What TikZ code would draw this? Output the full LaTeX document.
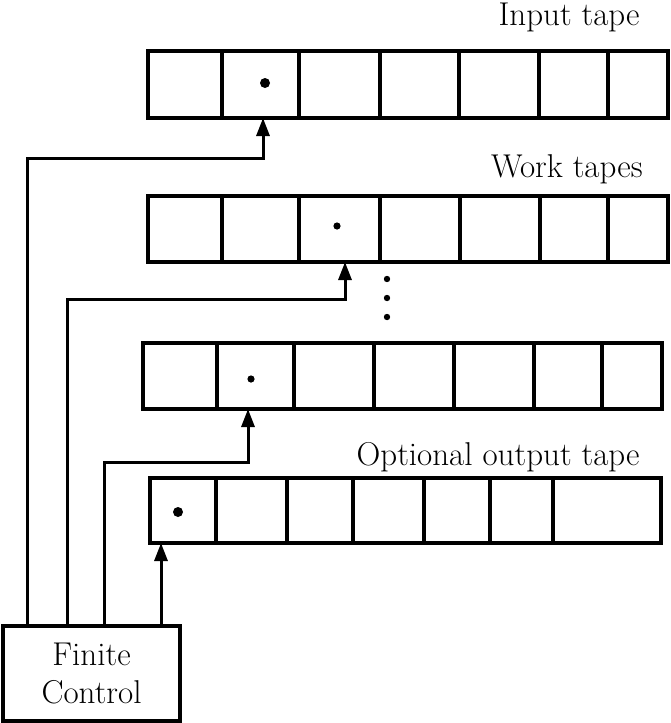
\documentclass[tikz,border=0pt]{standalone}
\usepackage{tikz}
\usetikzlibrary{arrows.meta,positioning}

\begin{document}
\begin{tikzpicture}[x=0.5pt, y=-0.5pt,
  tapeline/.style={line width=1.7pt},
  link/.style={line width=1.5pt, -{Triangle[length=9pt,width=6.5pt]}},
  tapelabel/.style={font=\fontsize{16.5}{20}\selectfont, anchor=base east, inner sep=0pt},
  control/.style={draw, line width=2pt, outer sep=0pt, minimum width=88.5pt, minimum height=47.5pt,
    align=center, font=\fontsize{16.5}{19}\selectfont}]
\useasboundingbox (0,0) rectangle (670,723);

% Input tape
\node[tapelabel] (inlabel) at (640,25) {Input tape};
\draw[tapeline] (148,51) rectangle (668,118);
\foreach \x in {222,299,380,459,539,608} \draw[tapeline] (\x,51) -- (\x,118);
\fill (265,83) circle (2.5pt);
\coordinate (head1) at (263,118);

% First work tape
\node[tapelabel] (worklabel) at (643,177) {Work tapes};
\draw[tapeline] (148,196) rectangle (668,262);
\foreach \x in {222,299,380,460,540,608} \draw[tapeline] (\x,196) -- (\x,262);
\fill (337,226) circle (1.8pt);
\coordinate (head2) at (345,262);

% Vertical dots
\foreach \y in {279,298,317} \fill (387,\y) circle (1.6pt);

% Last work tape
\draw[tapeline] (143,343) rectangle (662,409);
\foreach \x in {217,294,374,454,534,602} \draw[tapeline] (\x,343) -- (\x,409);
\fill (251,379) circle (1.8pt);
\coordinate (head3) at (248,409);

% Output tape
\node[tapelabel] (outlabel) at (640,465) {Optional output tape};
\draw[tapeline] (150,478) rectangle (661,543);
\foreach \x in {216,287,353,424,490,553} \draw[tapeline] (\x,478) -- (\x,543);
\fill (178,512) circle (2.5pt);
\coordinate (head4) at (161,543);

% Finite control and heads
\node[control] (fc) at (91.5,673.5) {Finite\\Control};
\draw[link] ([xshift=12pt]fc.north west) |- ([yshift=-20pt]head1) -- (head1);
\draw[link] ([xshift=32pt]fc.north west) |- ([yshift=-18.5pt]head2) -- (head2);
\draw[link] ([xshift=50.5pt]fc.north west) |- ([yshift=-26.5pt]head3) -- (head3);
\draw[link] ([xshift=79pt]fc.north west) -- (head4);
\end{tikzpicture}
\end{document}
